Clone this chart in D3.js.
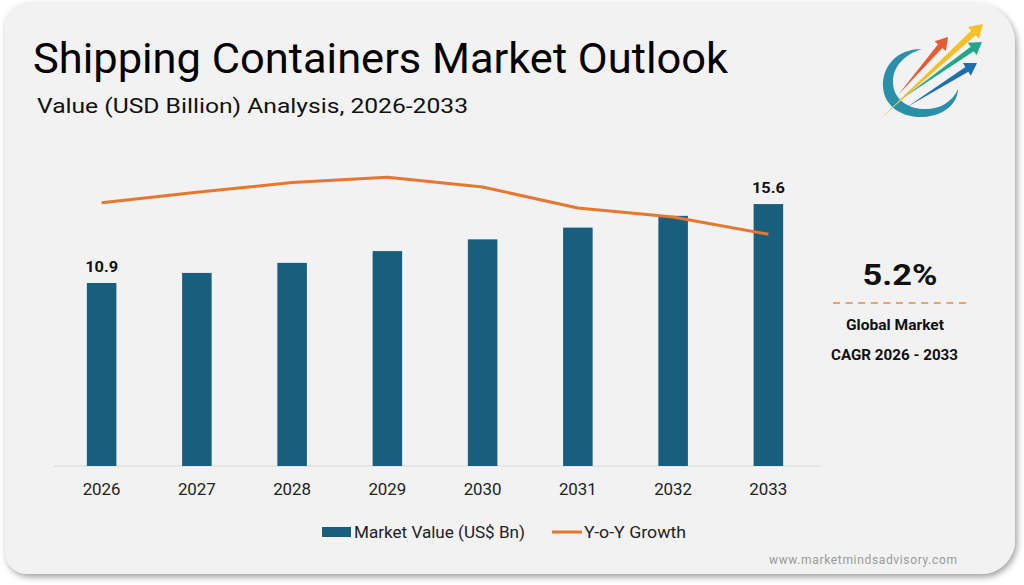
<!DOCTYPE html>
<html><head><meta charset="utf-8">
<script src="https://cdn.jsdelivr.net/npm/d3@7/dist/d3.min.js"></script>
<style>html,body{margin:0;padding:0;background:#fff;}svg{display:block;}</style>
</head><body>
<svg id="chart" width="1024" height="585"></svg>
<script>
const years = ["2026","2027","2028","2029","2030","2031","2032","2033"];
const marketValue = [10.9, 11.5, 12.1, 12.8, 13.5, 14.2, 14.9, 15.6];
const yoyGrowth = [5.11, 5.25, 5.38, 5.45, 5.32, 5.04, 4.92, 4.69];
const labelledYears = ["2026","2033"];
const cagrText = "5.2%";

const svg = d3.select("#chart");
const F = "Roboto, 'Liberation Sans', sans-serif";

// card with shadow
const defs = svg.append("defs");
const f = defs.append("filter").attr("id","sh").attr("x","-5%").attr("y","-5%").attr("width","110%").attr("height","112%");
f.append("feDropShadow").attr("dx",2).attr("dy",3).attr("stdDeviation",3).attr("flood-color","#000").attr("flood-opacity",0.38);
const cx0=5, cy0=3, cx1=1015, cy1=574, rTL=22, rTR=40, rBR=34, rBL=22;
svg.append("path").attr("d",
  `M${cx0+rTL},${cy0} H${cx1-rTR} A${rTR},${rTR} 0 0 1 ${cx1},${cy0+rTR} V${cy1-rBR} A${rBR},${rBR} 0 0 1 ${cx1-rBR},${cy1} H${cx0+rBL} A${rBL},${rBL} 0 0 1 ${cx0},${cy1-rBL} V${cy0+rTL} A${rTL},${rTL} 0 0 1 ${cx0+rTL},${cy0} Z`)
  .attr("fill","#f2f2f2").attr("filter","url(#sh)");

// titles
svg.append("text").attr("x",33).attr("y",73).attr("font-family",F).attr("font-size",42)
  .attr("fill","#000").attr("textLength",695).attr("lengthAdjust","spacingAndGlyphs")
  .text("Shipping Containers Market Outlook");
svg.append("text").attr("x",37).attr("y",113).attr("font-family",F).attr("font-size",20)
  .attr("fill","#111").attr("textLength",431).attr("lengthAdjust","spacingAndGlyphs")
  .text("Value (USD Billion) Analysis, 2026-2033");

// scales
const x = d3.scaleBand().domain(years).range([54, 816]).paddingInner(0.69).paddingOuter(0.345);
const y = d3.scaleLinear().domain([0, 10.9]).range([466, 283]);
const y2 = d3.scaleLinear().domain([4, 6]).range([286, 136]);

// axis
const ax = svg.append("g").attr("transform","translate(0,466)")
  .call(d3.axisBottom(x).tickSize(0).tickPadding(17));
ax.select(".domain").attr("stroke","#d9d9d9").attr("stroke-width",1)
  .attr("d","M54,0H820");
ax.selectAll("text").attr("font-family",F).attr("font-size",17).attr("fill","#222")
  .attr("textLength",38).attr("lengthAdjust","spacingAndGlyphs");

// bars
svg.append("g").selectAll("rect").data(years).join("rect")
  .attr("x", d => x(d)).attr("width", x.bandwidth())
  .attr("y", (d,i) => y(marketValue[i])).attr("height", (d,i) => y(0) - y(marketValue[i]))
  .attr("fill","#185f7e");

// data labels
svg.append("g").selectAll("text").data(years.filter(d => labelledYears.includes(d))).join("text")
  .attr("x", d => x(d) + x.bandwidth()/2)
  .attr("y", d => y(marketValue[years.indexOf(d)]) - 11.5)
  .attr("text-anchor","middle").attr("font-family",F).attr("font-weight","bold")
  .attr("font-size",15.5).attr("fill","#111").attr("textLength",33).attr("lengthAdjust","spacingAndGlyphs")
  .text(d => marketValue[years.indexOf(d)].toFixed(1));

// line
const line = d3.line().x((d,i) => x(years[i]) + x.bandwidth()/2).y(d => y2(d));
svg.append("path").datum(yoyGrowth).attr("d", line).attr("fill","none")
  .attr("stroke","#e8772e").attr("stroke-width",3).attr("stroke-linejoin","round");

// CAGR panel
svg.append("text").attr("x",900).attr("y",285).attr("text-anchor","middle").attr("font-family",F)
  .attr("font-weight","bold").attr("font-size",29).attr("fill","#111")
  .attr("textLength",75).attr("lengthAdjust","spacingAndGlyphs").text(cagrText);
svg.append("line").attr("x1",833).attr("x2",968).attr("y1",303).attr("y2",303)
  .attr("stroke","#f0a06a").attr("stroke-width",2).attr("stroke-dasharray","7,5.6");
svg.append("text").attr("x",895).attr("y",330).attr("text-anchor","middle").attr("font-family",F)
  .attr("font-weight","bold").attr("font-size",14.5).attr("fill","#111")
  .attr("textLength",98).attr("lengthAdjust","spacingAndGlyphs").text("Global Market");
svg.append("text").attr("x",894.5).attr("y",360).attr("text-anchor","middle").attr("font-family",F)
  .attr("font-weight","bold").attr("font-size",14.5).attr("fill","#111")
  .attr("textLength",127).attr("lengthAdjust","spacingAndGlyphs").text("CAGR 2026 - 2033");

// legend
svg.append("rect").attr("x",322).attr("y",527).attr("width",29).attr("height",10).attr("fill","#185f7e");
svg.append("text").attr("x",354).attr("y",537.5).attr("font-family",F).attr("font-size",16)
  .attr("fill","#222").attr("textLength",171).attr("lengthAdjust","spacingAndGlyphs").text("Market Value (US$ Bn)");
svg.append("line").attr("x1",552).attr("x2",582).attr("y1",532).attr("y2",532)
  .attr("stroke","#e8772e").attr("stroke-width",3);
svg.append("text").attr("x",584).attr("y",537.5).attr("font-family",F).attr("font-size",16)
  .attr("fill","#222").attr("textLength",102).attr("lengthAdjust","spacingAndGlyphs").text("Y-o-Y Growth");

// watermark
svg.append("text").attr("x",769).attr("y",564).attr("font-family",F).attr("font-size",12)
  .attr("fill","#9a9a9a").attr("textLength",188).text("www.marketmindsadvisory.com");

// logo
const lg = svg.append("g");
// teal swoosh ring (crescent, thick on lower-left)
lg.append("path").attr("d",
  "M 922 49 C 895 49 882 68 883 87 C 884 106 902 118 923 117 C 944 116 958 103 958 89 " +
  "C 952 103 938 110 923 109 C 905 108 893 97 893 82 C 893 66 905 54 922 49 Z")
  .attr("fill","#2a8fa8");
// arrows with tapered shafts
function arrow(x1,y1,x2,y2,col,w,hl,hw){
  const a = Math.atan2(y2-y1,x2-x1);
  const bx = x2 - hl*Math.cos(a), by = y2 - hl*Math.sin(a);
  const nx = -Math.sin(a), ny = Math.cos(a);
  lg.append("path").attr("d",
    `M${x1},${y1} L${bx+nx*w/2},${by+ny*w/2} L${bx+nx*hw},${by+ny*hw} L${x2},${y2} L${bx-nx*hw},${by-ny*hw} L${bx-nx*w/2},${by-ny*w/2} Z`)
    .attr("fill",col);
}
arrow(898,95,948,37,"#e85a33",5.5,12,7.5);
arrow(880,119,983,24,"#f5c12a",6.5,13,8);
arrow(903,98,982,42,"#22a889",5.5,12,7.5);
arrow(907,107,977,63,"#1f6fae",5.5,12,7.5);
</script>
</body></html>
